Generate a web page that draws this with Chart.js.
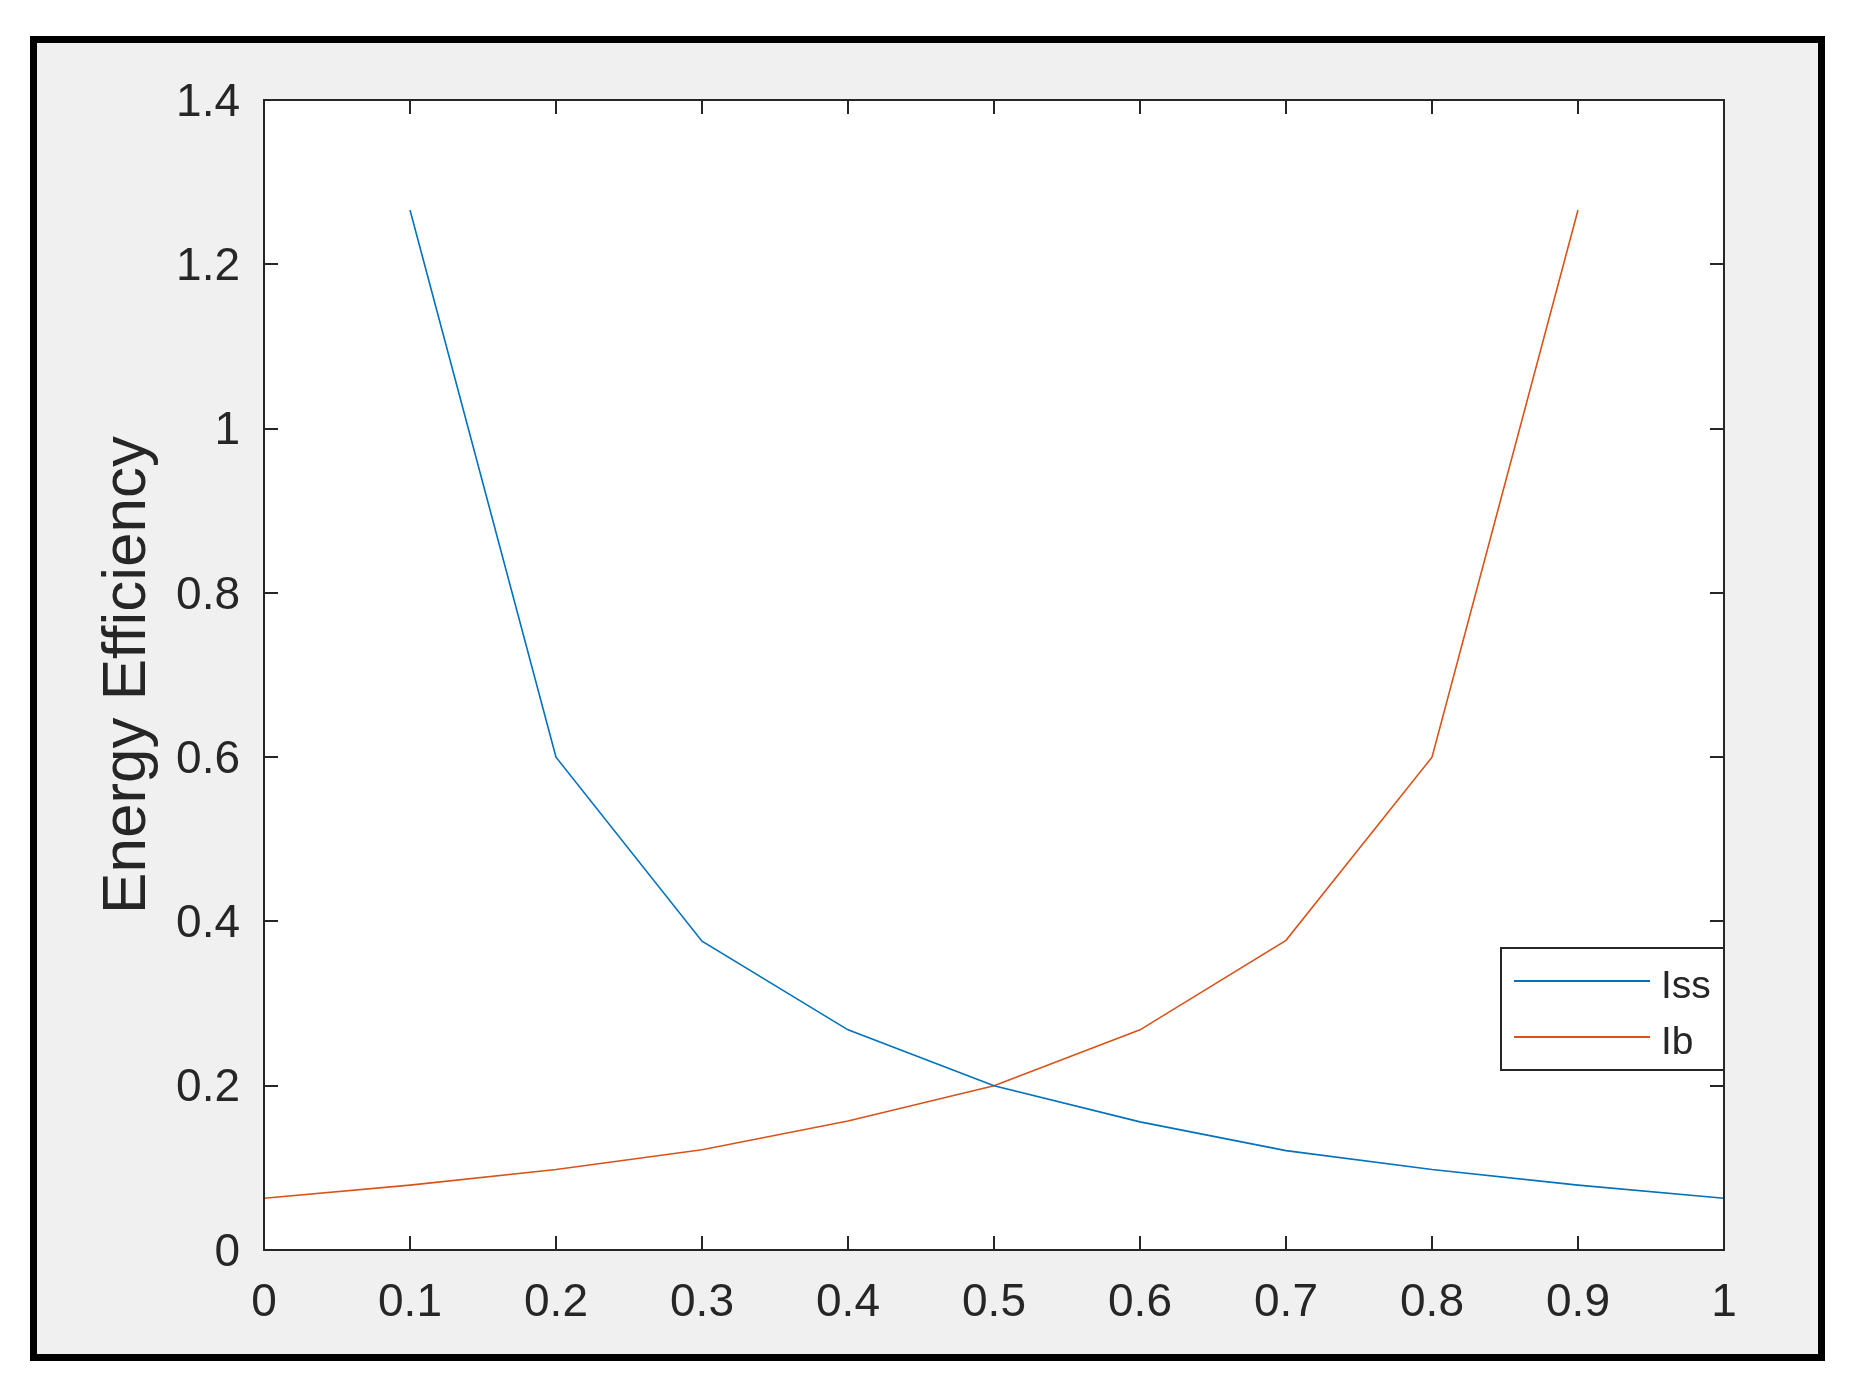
<!DOCTYPE html>
<html>
<head>
<meta charset="utf-8">
<title>Energy Efficiency</title>
<script src="https://cdn.jsdelivr.net/npm/chart.js@4.4.1/dist/chart.umd.min.js"></script>
<style>
  html, body { margin: 0; padding: 0; background: #fff; }
  canvas { display: block; }
</style>
</head>
<body>
<canvas id="chart" width="1866" height="1393"></canvas>
<script>
// values
const xValues   = [0, 0.1, 0.2, 0.3, 0.4, 0.5, 0.6, 0.7, 0.8, 0.9, 1];
const issValues = [null, 1.266, 0.6, 0.376, 0.268, 0.2, 0.156, 0.121, 0.098, 0.079, 0.063];
const ibValues  = [0.063, 0.079, 0.098, 0.122, 0.157, 0.2, 0.268, 0.377, 0.6, 1.266, null];
const seriesNames = ['Iss', 'Ib'];

const xTicks = [0, 0.1, 0.2, 0.3, 0.4, 0.5, 0.6, 0.7, 0.8, 0.9, 1];
const xTickLabels = ['0', '0.1', '0.2', '0.3', '0.4', '0.5', '0.6', '0.7', '0.8', '0.9', '1'];
const yTicks = [0, 0.2, 0.4, 0.6, 0.8, 1, 1.2, 1.4];
const yTickLabels = ['0', '0.2', '0.4', '0.6', '0.8', '1', '1.2', '1.4'];

const axisColor = '#262626';
const FONT = '"Liberation Sans", Arial, Helvetica, sans-serif';

const toPoints = ys => xValues.map((x, i) => ({ x, y: ys[i] })).filter(p => p.y !== null);

// gray figure background with black frame, white axes area
const framePlugin = {
  id: 'frame',
  beforeDraw(chart) {
    const { ctx, chartArea: a } = chart;
    ctx.save();
    ctx.fillStyle = '#fff';
    ctx.fillRect(0, 0, chart.width, chart.height);
    ctx.fillStyle = '#f0f0f0';
    ctx.fillRect(33.5, 39.5, 1788, 1318);
    ctx.lineWidth = 7;
    ctx.strokeStyle = '#000';
    ctx.strokeRect(33.5, 39.5, 1788, 1318);
    ctx.fillStyle = '#fff';
    ctx.fillRect(a.left, a.top, a.right - a.left, a.bottom - a.top);
    ctx.restore();
  }
};

// box around the axes + inward ticks on all four sides + legend
const boxPlugin = {
  id: 'box',
  afterDraw(chart) {
    const { ctx, chartArea: a, scales } = chart;
    const tl = 14;
    ctx.save();
    ctx.strokeStyle = axisColor;
    ctx.lineWidth = 2;
    ctx.beginPath();
    scales.x.ticks.forEach(t => {
      const px = Math.round(scales.x.getPixelForValue(t.value));
      if (px <= a.left + 1 || px >= a.right - 1) return;
      ctx.moveTo(px, a.bottom); ctx.lineTo(px, a.bottom - tl);
      ctx.moveTo(px, a.top);    ctx.lineTo(px, a.top + tl);
    });
    scales.y.ticks.forEach(t => {
      const py = Math.round(scales.y.getPixelForValue(t.value));
      if (py <= a.top + 1 || py >= a.bottom - 1) return;
      ctx.moveTo(a.left, py);  ctx.lineTo(a.left + tl, py);
      ctx.moveTo(a.right, py); ctx.lineTo(a.right - tl, py);
    });
    ctx.stroke();
    ctx.strokeRect(a.left, a.top, a.right - a.left, a.bottom - a.top);

    // legend, lower right inside the axes
    const bx = a.right - 223, by = a.bottom - 302, bw = 223, bh = 122;
    ctx.fillStyle = '#fff';
    ctx.fillRect(bx, by, bw, bh);
    ctx.strokeRect(bx, by, bw, bh);
    ctx.font = '39px ' + FONT;
    ctx.textBaseline = 'alphabetic';
    chart.data.datasets.forEach((ds, i) => {
      const ly = by + 33 + i * 56;
      ctx.strokeStyle = ds.borderColor;
      ctx.lineWidth = 2;
      ctx.beginPath();
      ctx.moveTo(bx + 13, ly); ctx.lineTo(bx + 149, ly);
      ctx.stroke();
      ctx.fillStyle = axisColor;
      ctx.fillText(ds.label, bx + 160, ly + 17);
    });
    ctx.restore();
  }
};

new Chart(document.getElementById('chart'), {
  type: 'line',
  data: {
    datasets: [
      { label: seriesNames[0], data: toPoints(issValues), borderColor: '#0072BD', borderWidth: 1.6, pointRadius: 0, tension: 0, fill: false },
      { label: seriesNames[1], data: toPoints(ibValues),  borderColor: '#D95319', borderWidth: 1.6, pointRadius: 0, tension: 0, fill: false }
    ]
  },
  options: {
    responsive: false,
    animation: false,
    devicePixelRatio: 1,
    layout: { padding: { left: 40, right: 142, top: 100, bottom: 40 } },
    plugins: { legend: { display: false }, tooltip: { enabled: false } },
    scales: {
      x: {
        type: 'linear', min: 0, max: 1,
        grid: { display: false, drawTicks: false },
        border: { display: false },
        afterBuildTicks: s => { s.ticks = xTicks.map(v => ({ value: v })); },
        afterFit: s => { s.height = 103; },
        ticks: {
          autoSkip: false, maxRotation: 0, padding: 26, color: axisColor,
          font: { family: FONT, size: 46 },
          callback: (v, i) => xTickLabels[i]
        }
      },
      y: {
        type: 'linear', min: 0, max: 1.4,
        grid: { display: false, drawTicks: false },
        border: { display: false },
        afterBuildTicks: s => { s.ticks = yTicks.map(v => ({ value: v })); },
        afterFit: s => { s.width = 224; },
        ticks: {
          autoSkip: false, padding: 24, labelOffset: 3, color: axisColor,
          font: { family: FONT, size: 46 },
          callback: (v, i) => yTickLabels[i]
        },
        title: {
          display: true, text: 'Energy Efficiency', color: axisColor,
          font: { family: FONT, size: 62 },
          padding: { top: 51, bottom: 0 }
        }
      }
    }
  },
  plugins: [framePlugin, boxPlugin]
});
</script>
</body>
</html>
